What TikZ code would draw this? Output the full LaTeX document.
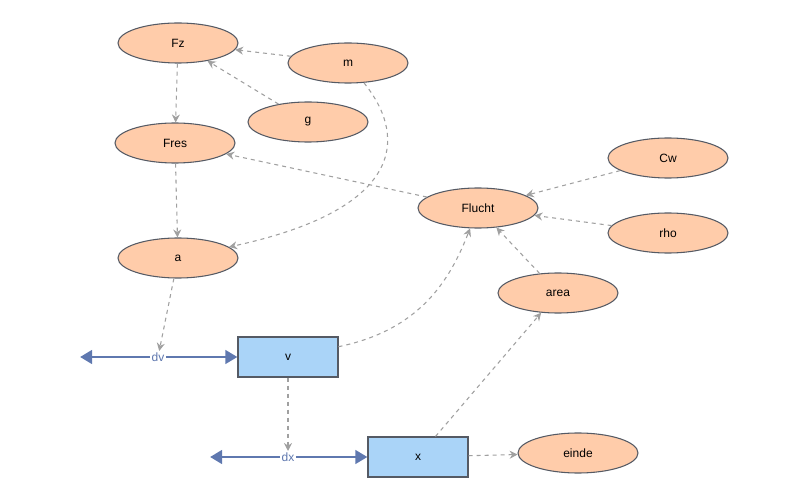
\documentclass[tikz,border=0pt]{standalone}
\usepackage{fontspec}
\setmainfont{Liberation Sans}
\usetikzlibrary{shapes.geometric,arrows.meta}
\definecolor{ellf}{RGB}{255,204,170}
\definecolor{rectf}{RGB}{170,212,248}
\definecolor{edge}{RGB}{85,90,100}
\definecolor{flow}{RGB}{95,120,175}
\definecolor{dep}{RGB}{160,160,160}
\begin{document}
\begin{tikzpicture}[x=0.75pt,y=-0.75pt,
  var/.style={ellipse,draw=edge,thick,fill=ellf,minimum width=90pt,minimum height=30pt,inner sep=0pt,font=\small},
  stock/.style={rectangle,draw=edge,thick,fill=rectf,minimum width=75pt,minimum height=30pt,inner sep=0pt,font=\small},
  dep/.style={draw=dep,thick,dashed,-{Stealth[length=6pt,width=6pt]}},
  flowa/.style={draw=flow,line width=2.2pt,-{Triangle[length=9pt,width=10pt]}},
  lbl/.style={font=\small,text=flow,fill=white,inner sep=1pt}]
\useasboundingbox (0,0) rectangle (800,502);
\node[var] (Fz) at (178,43) {Fz};
\node[var] (m) at (348,63) {m};
\node[var] (g) at (308,122) {g};
\node[var] (Fres) at (175,143) {Fres};
\node[var] (Flucht) at (478,208) {Flucht};
\node[var] (Cw) at (668,158) {Cw};
\node[var] (rho) at (668,233) {rho};
\node[var] (area) at (558,293) {area};
\node[var] (a) at (178,258) {a};
\node[var] (einde) at (578,453) {einde};
\node[stock] (v) at (288,357) {v};
\node[stock] (x) at (418,457) {x};
\coordinate (dvL) at (80,357);
\coordinate (dxL) at (210,457);
\node[lbl] (dv) at (158,357) {dv};
\node[lbl] (dx) at (288,457) {dx};
\draw[flowa] (dv) -- (v);
\draw[flowa] (dv) -- (dvL);
\draw[flowa] (dx) -- (x);
\draw[flowa] (dx) -- (dxL);
\draw[dep] (m) -- (Fz);
\draw[dep] (g) -- (Fz);
\draw[dep] (Fz) -- (Fres);
\draw[dep] (Fres) -- (a);
\draw[dep] (Flucht) -- (Fres);
\draw[dep] (Cw) -- (Flucht);
\draw[dep] (rho) -- (Flucht);
\draw[dep] (area) -- (Flucht);
\draw[dep] (m) .. controls (410,140) and (400,210) .. (a);
\draw[dep] (a) -- (dv);
\draw[dep] (v) .. controls (420,330) and (450,280) .. (Flucht);
\draw[dep] (v) -- (dx);
\draw[dep] (x) -- (area);
\draw[dep] (x) -- (einde);
\end{tikzpicture}
\end{document}
